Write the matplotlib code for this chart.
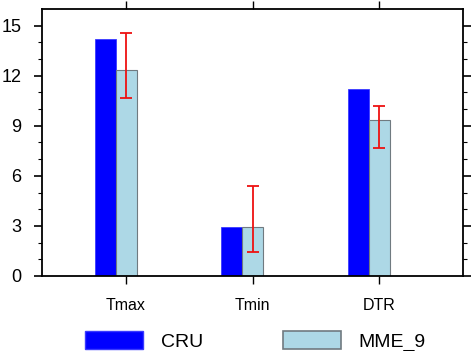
import matplotlib
matplotlib.use('Agg')
import matplotlib.pyplot as plt
import numpy as np
from matplotlib.patches import Patch

categories = ['Tmax', 'Tmin', 'DTR']
cru = [14.2, 2.92, 11.2]
mme = [12.32, 2.96, 9.36]
mme_lo = [10.64, 1.44, 7.64]
mme_hi = [14.54, 5.42, 10.16]

plt.rcParams['font.family'] = ['Liberation Sans', 'DejaVu Sans']

fig = plt.figure(figsize=(4.74, 3.51), dpi=100)
ax = fig.add_axes([0.0886, 0.2137, 0.8884, 0.7607])

x = np.arange(1, len(categories) + 1)
w = 0.166
mme = np.array(mme)
err = [mme - np.array(mme_lo), np.array(mme_hi) - mme]

ax.bar(x - w, cru, width=w, color='#0000ff', edgecolor='#3a3aff', linewidth=0.6)
ax.bar(x, mme, width=w, color='#add8e6', edgecolor='#707a80', linewidth=0.8)
ax.errorbar(x, mme, yerr=err, fmt='none', ecolor='#ee1111', elinewidth=1.3,
            capsize=4, capthick=1.3)

ax.set_xlim(0.336, 3.664)
ax.set_ylim(0, 16)
ax.set_xticks(x)
ax.set_xticklabels(categories, fontsize=11.5)
ax.set_yticks(np.arange(0, 16, 3))
ax.set_yticks(np.arange(0, 16, 1), minor=True)
ax.tick_params(axis='y', which='major', labelsize=13, length=6, width=1.2,
               right=True, direction='out', pad=9)
ax.tick_params(axis='y', which='minor', length=3, width=0.8, right=True, direction='out')
ax.tick_params(axis='x', which='major', length=6, width=1.0, top=True,
               direction='out', pad=10)
for s in ax.spines.values():
    s.set_linewidth(1.3)

handles = [Patch(facecolor='#0000ff', edgecolor='#3a3aff', label='CRU'),
           Patch(facecolor='#add8e6', edgecolor='#707a80', linewidth=1.2, label='MME_9')]
fig.legend(handles=handles, loc='lower left', bbox_to_anchor=(85 / 474, 0.0),
           borderaxespad=0, borderpad=0,
           ncol=2, frameon=False, fontsize=14, handlelength=3.0, handleheight=1.0,
           columnspacing=4.1, handletextpad=0.9)

plt.savefig('out.png', dpi=100)
